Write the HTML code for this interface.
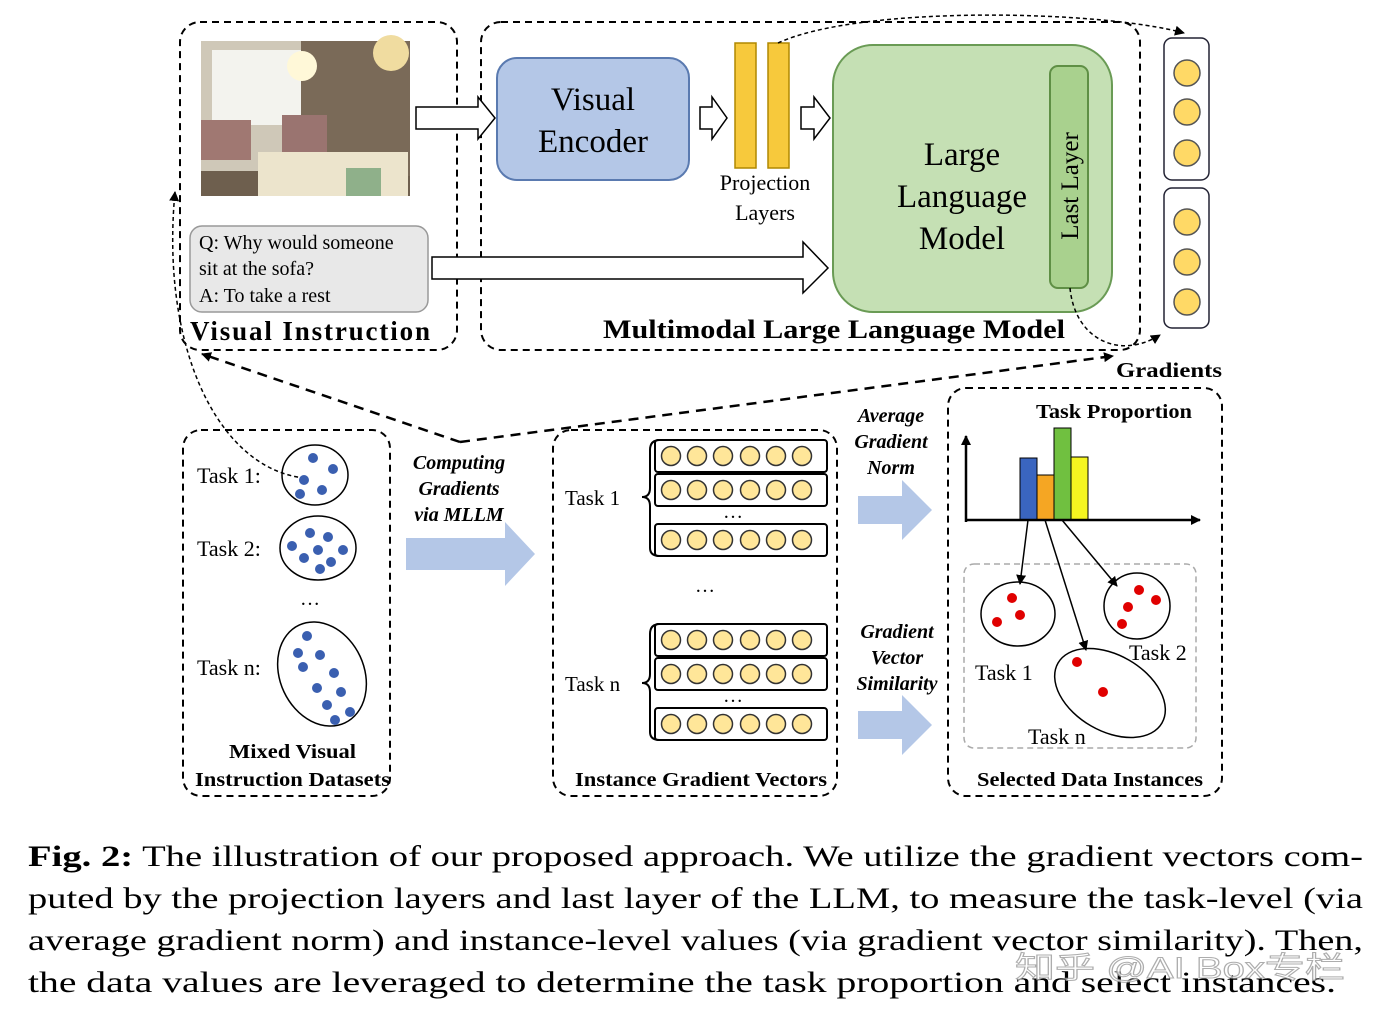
<!DOCTYPE html>
<html><head><meta charset="utf-8"><style>
html,body{margin:0;padding:0;background:#fff;}
svg{display:block;}
.s{font-family:"Liberation Serif",serif;}
</style></head><body>
<svg width="1382" height="1028" viewBox="0 0 1382 1028" xmlns="http://www.w3.org/2000/svg" class="s">
<defs>
<marker id="ah" markerWidth="10" markerHeight="10" refX="9" refY="5" orient="auto" markerUnits="userSpaceOnUse"><path d="M0,0 L10,5 L0,10 z" fill="#000"/></marker>
</defs>
<g fill="none" stroke="#000" stroke-width="2" stroke-dasharray="7,5">
<rect x="180" y="22" width="277" height="328" rx="20"/>
<rect x="481" y="22" width="659" height="328" rx="20"/>
<rect x="183" y="430" width="207" height="366" rx="18"/>
<rect x="553" y="430" width="284" height="366" rx="18"/>
<rect x="948" y="388" width="274" height="408" rx="18"/>
</g>
<!-- photo -->
<rect x="201" y="41" width="209" height="155" fill="#6e5f4e"/>
<rect x="201" y="41" width="110" height="130" fill="#cfc8b8"/>
<rect x="212" y="50" width="90" height="75" fill="#f3f3ee"/>
<rect x="301" y="41" width="109" height="135" fill="#7a6a58"/>
<circle cx="302" cy="66" r="15" fill="#fff8d8"/>
<circle cx="391" cy="53" r="18" fill="#f0dca0"/>
<rect x="201" y="120" width="50" height="40" fill="#a07872"/>
<rect x="282" y="115" width="45" height="38" fill="#9a7470"/>
<rect x="258" y="152" width="150" height="44" fill="#ece4cc"/>
<rect x="346" y="168" width="35" height="28" fill="#8fb08a"/>
<!-- QA -->
<rect x="190" y="226" width="238" height="86" rx="12" fill="#e8e8e8" stroke="#999" stroke-width="1.5"/>
<g font-size="20"><text x="199" y="249">Q: Why would someone</text><text x="199" y="275">sit at the sofa?</text><text x="199" y="302">A: To take a rest</text></g>
<text x="190" y="340" font-size="27" font-weight="bold" textLength="240" lengthAdjust="spacing">Visual  Instruction</text>
<!-- hollow arrows -->
<g fill="#fff" stroke="#000" stroke-width="1.5">
<path d="M416,107 L478,107 L478,97 L495,118 L478,139 L478,129 L416,129 Z"/>
<path d="M700,107 L712,107 L712,97 L727,118 L712,139 L712,129 L700,129 Z"/>
<path d="M801,107 L814,107 L814,97 L830,118 L814,139 L814,129 L801,129 Z"/>
<path d="M432,257 L803,257 L803,242 L828,268 L803,293 L803,279 L432,279 Z"/>
</g>
<rect x="497" y="58" width="192" height="122" rx="20" fill="#b4c7e7" stroke="#5a7ab0" stroke-width="2"/>
<text x="593" y="110" font-size="33" text-anchor="middle">Visual</text>
<text x="593" y="152" font-size="33" text-anchor="middle">Encoder</text>
<rect x="735" y="43" width="21" height="125" fill="#f7c93c" stroke="#b08800" stroke-width="1.5"/>
<rect x="768" y="43" width="21" height="125" fill="#f7c93c" stroke="#b08800" stroke-width="1.5"/>
<text x="765" y="190" font-size="22" text-anchor="middle">Projection</text>
<text x="765" y="220" font-size="22" text-anchor="middle">Layers</text>
<rect x="833" y="45" width="279" height="267" rx="40" fill="#c5e0b4" stroke="#6a9b55" stroke-width="2"/>
<g font-size="33" text-anchor="middle"><text x="962" y="165">Large</text><text x="962" y="207">Language</text><text x="962" y="249">Model</text></g>
<rect x="1050" y="66" width="38" height="222" rx="8" fill="#a9d18e" stroke="#5f8f45" stroke-width="2"/>
<text transform="translate(1078,186) rotate(-90)" font-size="25" text-anchor="middle">Last Layer</text>
<text x="603" y="338" font-size="26" font-weight="bold" textLength="462" lengthAdjust="spacingAndGlyphs">Multimodal Large Language Model</text>
<!-- gradients -->
<g fill="#fff" stroke="#223" stroke-width="1.5"><rect x="1164" y="38" width="45" height="142" rx="8"/><rect x="1164" y="188" width="45" height="140" rx="8"/></g>
<g fill="#ffd966" stroke="#555" stroke-width="1.5">
<circle cx="1187" cy="73" r="13"/><circle cx="1187" cy="112" r="13"/><circle cx="1187" cy="153" r="13"/>
<circle cx="1187" cy="222" r="13"/><circle cx="1187" cy="262" r="13"/><circle cx="1187" cy="302" r="13"/></g>
<text x="1116" y="377" font-size="21" font-weight="bold" textLength="106" lengthAdjust="spacingAndGlyphs">Gradients</text>
<g fill="none" stroke="#000" stroke-width="1.5" stroke-dasharray="4,3">
<path d="M778,43 C860,5 1100,10 1184,33" marker-end="url(#ah)"/>
<path d="M1070,288 C1075,340 1120,360 1160,335" marker-end="url(#ah)"/>
<path d="M305,478 C220,470 160,350 175,192" marker-end="url(#ah)"/>
</g>
<g fill="none" stroke="#000" stroke-width="2.5" stroke-dasharray="10,7">
<path d="M460,442 L202,354" marker-end="url(#ah)"/>
<path d="M460,442 L1113,356" marker-end="url(#ah)"/>
</g>
<!-- mixed datasets -->
<g font-size="22"><text x="197" y="483">Task 1:</text><text x="197" y="556">Task 2:</text><text x="197" y="675">Task n:</text></g>
<text x="310" y="605" font-size="20" text-anchor="middle">…</text>
<g fill="none" stroke="#000" stroke-width="1.5">
<ellipse cx="315" cy="475" rx="33" ry="30"/><ellipse cx="318" cy="548" rx="38" ry="32"/>
<ellipse cx="322" cy="674" rx="42" ry="54" transform="rotate(-25 322 674)"/>
</g>
<g fill="#3a5fb0">
<circle cx="313" cy="458" r="5"/><circle cx="333" cy="469" r="5"/><circle cx="304" cy="480" r="5"/><circle cx="322" cy="490" r="5"/><circle cx="300" cy="494" r="5"/>
<circle cx="310" cy="533" r="5"/><circle cx="328" cy="537" r="5"/><circle cx="292" cy="546" r="5"/><circle cx="318" cy="550" r="5"/><circle cx="343" cy="550" r="5"/><circle cx="304" cy="558" r="5"/><circle cx="331" cy="562" r="5"/><circle cx="320" cy="569" r="5"/>
<circle cx="307" cy="636" r="5"/><circle cx="298" cy="653" r="5"/><circle cx="320" cy="655" r="5"/><circle cx="303" cy="667" r="5"/><circle cx="334" cy="673" r="5"/><circle cx="317" cy="688" r="5"/><circle cx="341" cy="692" r="5"/><circle cx="327" cy="705" r="5"/><circle cx="350" cy="712" r="5"/><circle cx="335" cy="720" r="5"/>
</g>
<g font-size="20" font-weight="bold">
<text x="229" y="758" textLength="127" lengthAdjust="spacingAndGlyphs">Mixed Visual</text>
<text x="195" y="786" textLength="195" lengthAdjust="spacingAndGlyphs">Instruction Datasets</text></g>
<!-- blue arrows -->
<g fill="#b4c7e7">
<path d="M406,538 L505,538 L505,522 L535,554 L505,586 L505,570 L406,570 Z"/>
<path d="M858,496 L902,496 L902,480 L932,510 L902,540 L902,524 L858,524 Z"/>
<path d="M858,711 L902,711 L902,695 L932,725 L902,755 L902,739 L858,739 Z"/>
</g>
<g font-size="20" font-weight="bold" font-style="italic" text-anchor="middle">
<text x="459" y="469">Computing</text><text x="459" y="495">Gradients</text><text x="459" y="521">via MLLM</text>
<text x="891" y="422">Average</text><text x="891" y="448">Gradient</text><text x="891" y="474">Norm</text>
<text x="897" y="638">Gradient</text><text x="897" y="664">Vector</text><text x="897" y="690">Similarity</text>
</g>
<!-- instance vectors -->
<g fill="#fff" stroke="#000" stroke-width="2">
<rect x="655" y="440" width="172" height="32" rx="3"/><rect x="655" y="474" width="172" height="32" rx="3"/><rect x="655" y="524" width="172" height="32" rx="3"/>
<rect x="655" y="624" width="172" height="32" rx="3"/><rect x="655" y="658" width="172" height="32" rx="3"/><rect x="655" y="708" width="172" height="32" rx="3"/>
</g>
<g fill="#ffe699" stroke="#333" stroke-width="1.5">
<g id="r1"><circle cx="671" cy="456" r="9.5"/><circle cx="697" cy="456" r="9.5"/><circle cx="723" cy="456" r="9.5"/><circle cx="750" cy="456" r="9.5"/><circle cx="776" cy="456" r="9.5"/><circle cx="802" cy="456" r="9.5"/></g>
<use href="#r1" y="34"/><use href="#r1" y="84"/><use href="#r1" y="184"/><use href="#r1" y="218"/><use href="#r1" y="268"/>
</g>
<g font-size="20" text-anchor="middle"><text x="733" y="518">…</text><text x="733" y="702">…</text><text x="705" y="592">…</text></g>
<g fill="none" stroke="#000" stroke-width="2">
<path d="M660,440 Q650,440 650,450 L650,488 Q650,497 642,497 Q650,497 650,506 L650,548 Q650,556 660,556"/>
<path d="M660,624 Q650,624 650,634 L650,674 Q650,683 642,683 Q650,683 650,692 L650,732 Q650,740 660,740"/>
</g>
<g font-size="21"><text x="565" y="505">Task 1</text><text x="565" y="691">Task n</text></g>
<text x="575" y="786" font-size="20" font-weight="bold" textLength="252" lengthAdjust="spacingAndGlyphs">Instance Gradient Vectors</text>
<!-- selected -->
<text x="1036" y="418" font-size="20" font-weight="bold" textLength="156" lengthAdjust="spacingAndGlyphs">Task Proportion</text>
<rect x="1020" y="458" width="17" height="62" fill="#3a65c0" stroke="#000"/>
<rect x="1037" y="475" width="17" height="45" fill="#f5a623" stroke="#000"/>
<rect x="1054" y="428" width="17" height="92" fill="#70c040" stroke="#000"/>
<rect x="1071" y="457" width="17" height="63" fill="#f5f520" stroke="#000"/>
<g stroke="#000" stroke-width="2.5" fill="none">
<path d="M966,522 L966,436" marker-end="url(#ah)"/>
<path d="M966,520 L1200,520" marker-end="url(#ah)"/>
</g>
<rect x="964" y="564" width="232" height="184" rx="10" fill="none" stroke="#aaa" stroke-width="1.5" stroke-dasharray="6,4"/>
<g fill="none" stroke="#000" stroke-width="1.5">
<ellipse cx="1018" cy="614" rx="37" ry="32"/><ellipse cx="1137" cy="606" rx="33" ry="33"/>
<ellipse cx="1110" cy="693" rx="60" ry="38" transform="rotate(30 1110 693)"/>
<path d="M1028,520 L1020,584" marker-end="url(#ah)"/>
<path d="M1045,520 L1086,650" marker-end="url(#ah)"/>
<path d="M1062,520 L1117,586" marker-end="url(#ah)"/>
</g>
<g fill="#e00000">
<circle cx="1012" cy="598" r="5"/><circle cx="1020" cy="615" r="5"/><circle cx="997" cy="622" r="5"/>
<circle cx="1139" cy="590" r="5"/><circle cx="1156" cy="600" r="5"/><circle cx="1128" cy="607" r="5"/><circle cx="1122" cy="624" r="5"/>
<circle cx="1077" cy="662" r="5"/><circle cx="1103" cy="692" r="5"/>
</g>
<g font-size="22"><text x="975" y="680">Task 1</text><text x="1129" y="660">Task 2</text><text x="1028" y="744">Task n</text></g>
<text x="977" y="786" font-size="20" font-weight="bold" textLength="226" lengthAdjust="spacingAndGlyphs">Selected Data Instances</text>
<!-- caption -->
<g font-size="30">
<text x="28" y="866" textLength="1335" lengthAdjust="spacingAndGlyphs"><tspan font-weight="bold">Fig. 2:</tspan> The illustration of our proposed approach. We utilize the gradient vectors com-</text>
<text x="28" y="908" textLength="1335" lengthAdjust="spacingAndGlyphs">puted by the projection layers and last layer of the LLM, to measure the task-level (via</text>
<text x="28" y="950" textLength="1335" lengthAdjust="spacingAndGlyphs">average gradient norm) and instance-level values (via gradient vector similarity). Then,</text>
<text x="28" y="992" textLength="1308" lengthAdjust="spacingAndGlyphs">the data values are leveraged to determine the task proportion and select instances.</text>
</g>
<text x="1015" y="978" font-size="30" fill="#fff" stroke="#999" stroke-width="1" opacity="0.8" textLength="330" lengthAdjust="spacingAndGlyphs" font-family="'Liberation Sans','Noto Sans CJK SC',sans-serif">知乎 @AI Box专栏</text>
</svg>
</body></html>
